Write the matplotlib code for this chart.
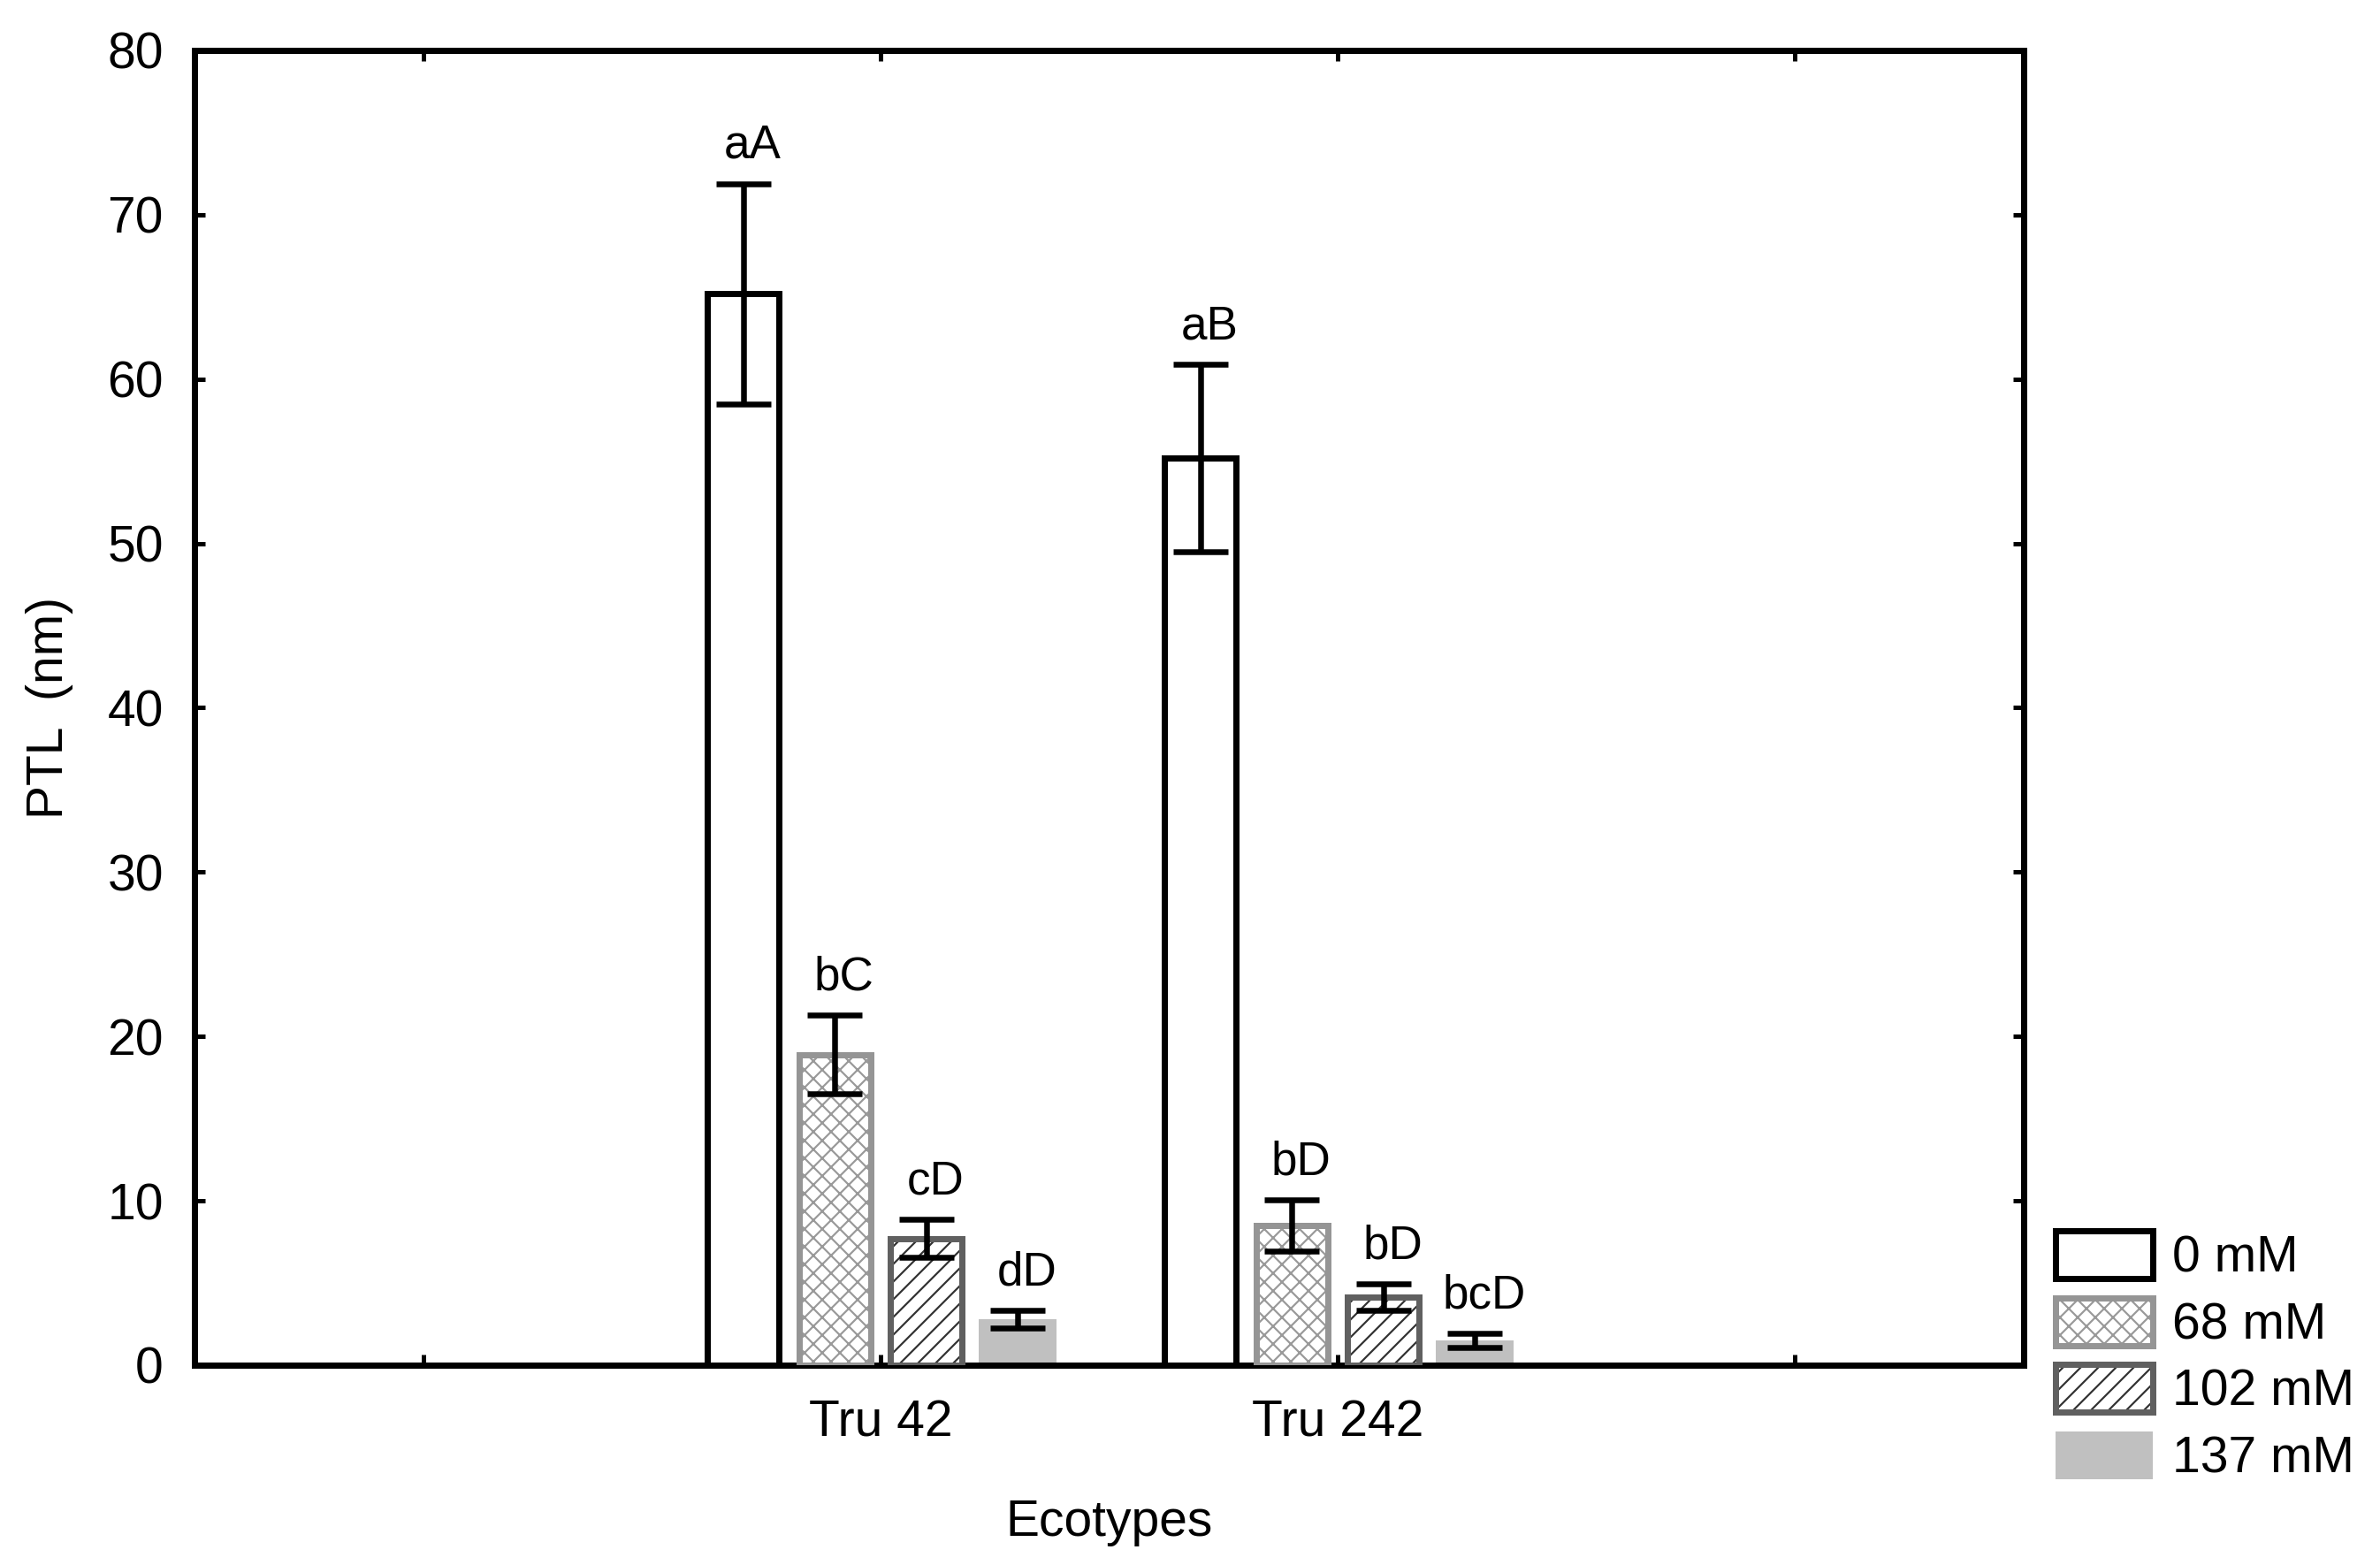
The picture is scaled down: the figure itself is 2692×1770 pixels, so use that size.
import matplotlib.pyplot as plt
from matplotlib.patches import Patch

DPI = 120
def pt(px):
    # pixel size -> points at the output dpi
    return px * 72.0 / DPI

plt.rcParams['font.family'] = ['Liberation Sans', 'DejaVu Sans']
plt.rcParams['hatch.linewidth'] = pt(2.2)

# data
ecotypes = ['Tru 42', 'Tru 242']
doses = ['0 mM', '68 mM', '102 mM', '137 mM']
mean_tru42 = [65.2, 18.9, 7.7, 2.8]
se_tru42 = [6.7, 2.4, 1.15, 0.52]
mean_tru242 = [55.2, 8.5, 4.15, 1.5]
se_tru242 = [5.7, 1.55, 0.8, 0.42]
letters_tru42 = ['aA', 'bC', 'cD', 'dD']
letters_tru242 = ['aB', 'bD', 'bD', 'bcD']

# styles per dose
face = ['white', 'white', 'white', '#c0c0c0']
hatch_col = ['white', '#9a9a9a', '#333333', '#c0c0c0']
hatches = [None, 'xx', '//', None]
edge = ['black', '#959595', '#606060', 'none']

fig = plt.figure(figsize=(2692 / DPI, 1770 / DPI), dpi=DPI)
ax = fig.add_axes([0.0817, 0.1277, 0.7686, 0.8401])

fs = pt(57)
width = 0.17
offsets = [-0.3, -0.1, 0.1, 0.3]
xs = [1, 2]
handles = []
for i in range(4):
    pos = [x + offsets[i] for x in xs]
    h = [mean_tru42[i], mean_tru242[i]]
    e = [se_tru42[i], se_tru242[i]]
    has_edge = edge[i] != 'none'
    lw = pt(7) if has_edge else 0
    w = width - 0.0135 if has_edge else width
    ax.bar(pos, h, w, color=face[i], edgecolor=hatch_col[i],
           hatch=hatches[i], linewidth=0, zorder=2)
    ax.bar(pos, h, w, facecolor='none', edgecolor=edge[i],
           linewidth=lw, zorder=3)
    ax.errorbar(pos, h, yerr=e, fmt='none', ecolor='black', elinewidth=pt(6.5),
                capsize=pt(31), capthick=pt(6.5), zorder=4)
    for x, m, s, t in zip(pos, h, e, [letters_tru42[i], letters_tru242[i]]):
        ax.text(x + 0.02, m + s + 2.3, t, ha='center', va='center',
                fontsize=pt(53), zorder=5)
    hp = Patch(facecolor=face[i], edgecolor=hatch_col[i], hatch=hatches[i], linewidth=0)
    ep = Patch(facecolor='none', edgecolor=edge[i], linewidth=lw)
    handles.append((hp, ep))

ax.set_xlim(-0.5, 3.5)
ax.set_ylim(0, 80)
ax.set_xticks([0, 1, 2, 3])
ax.set_xticklabels([''] + ecotypes + [''])
ax.set_yticks(range(0, 81, 10))

for sp in ax.spines.values():
    sp.set_linewidth(pt(7))
ax.tick_params(direction='in', length=pt(12), width=pt(5), top=True, right=True,
               labelsize=fs, colors='black')
ax.tick_params(axis='x', pad=pt(39))
ax.tick_params(axis='y', pad=pt(35))

ax.set_ylabel('PTL  (nm)', fontsize=fs)
ax.yaxis.set_label_coords(-0.066, 0.5)
ax.set_xlabel('Ecotypes', fontsize=fs)
ax.xaxis.set_label_coords(0.5, -0.1015)

fig.legend(handles, doses, loc='lower left', bbox_to_anchor=(0.8637, 0.0525),
           bbox_transform=fig.transFigure, frameon=False, fontsize=fs,
           handlelength=1.92, handleheight=1.08, labelspacing=0.30,
           handletextpad=0.4, borderpad=0, borderaxespad=0)

fig.savefig('out.png', dpi=DPI)
